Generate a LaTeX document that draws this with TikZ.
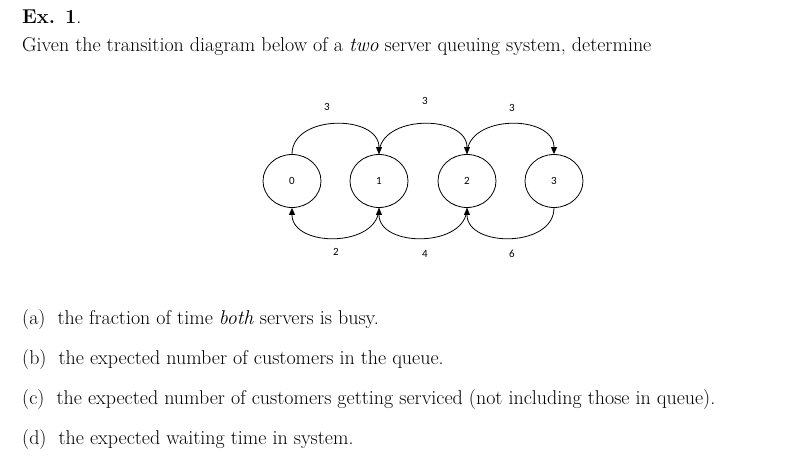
\documentclass[tikz,border=0pt]{standalone}
\usepackage{fontspec}
\newfontfamily\diag{Carlito}
\usetikzlibrary{arrows.meta,shapes.geometric}
\begin{document}
\begin{tikzpicture}[x=1pt,y=-1pt,
  st/.style={draw,ellipse,minimum width=58pt,minimum height=53pt,inner sep=0pt,line width=0.8pt,font=\diag\fontsize{11}{12}\selectfont},
  lb/.style={font=\diag\fontsize{11}{12}\selectfont},
  tx/.style={anchor=base west,inner sep=0pt,font=\fontsize{20}{24}\selectfont},
  ar/.style={-{Triangle[length=7pt,width=6pt]},line width=0.8pt}]
\useasboundingbox (0,0) rectangle (809,465);
\node[tx] (h) at (22,24) {\textbf{Ex. 1}.};
\node[tx] (g) at (22,52) {Given the transition diagram below of a \emph{two} server queuing system, determine};
\node[st] (s0) at (292,181) {0};
\node[st] (s1) at (379,181) {1};
\node[st] (s2) at (467,181) {2};
\node[st] (s3) at (554,181) {3};
\foreach \a/\b in {s0/s1,s1/s2,s2/s3}{
  \draw[ar] (\a.north) .. controls ([yshift=40pt]\a.north) and ([yshift=40pt]\b.north) .. (\b.north);
  \draw[ar] (\b.south) .. controls ([yshift=-40pt]\b.south) and ([yshift=-40pt]\a.south) .. (\a.south);
}
\node[lb] (t1) at (327,107) {3};
\node[lb] (t2) at (425,101) {3};
\node[lb] (t3) at (512,108) {3};
\node[lb] (b1) at (336,252) {2};
\node[lb] (b2) at (425,254) {4};
\node[lb] (b3) at (512,254) {6};
\node[tx] (a) at (22,324) {(a)\ \ the fraction of time \emph{both} servers is busy.};
\node[tx] (b) at (22,364) {(b)\ \ the expected number of customers in the queue.};
\node[tx] (c) at (22,404) {(c)\ \ the expected number of customers getting serviced (not including those in queue).};
\node[tx] (d) at (22,444) {(d)\ \ the expected waiting time in system.};
\end{tikzpicture}
\end{document}
